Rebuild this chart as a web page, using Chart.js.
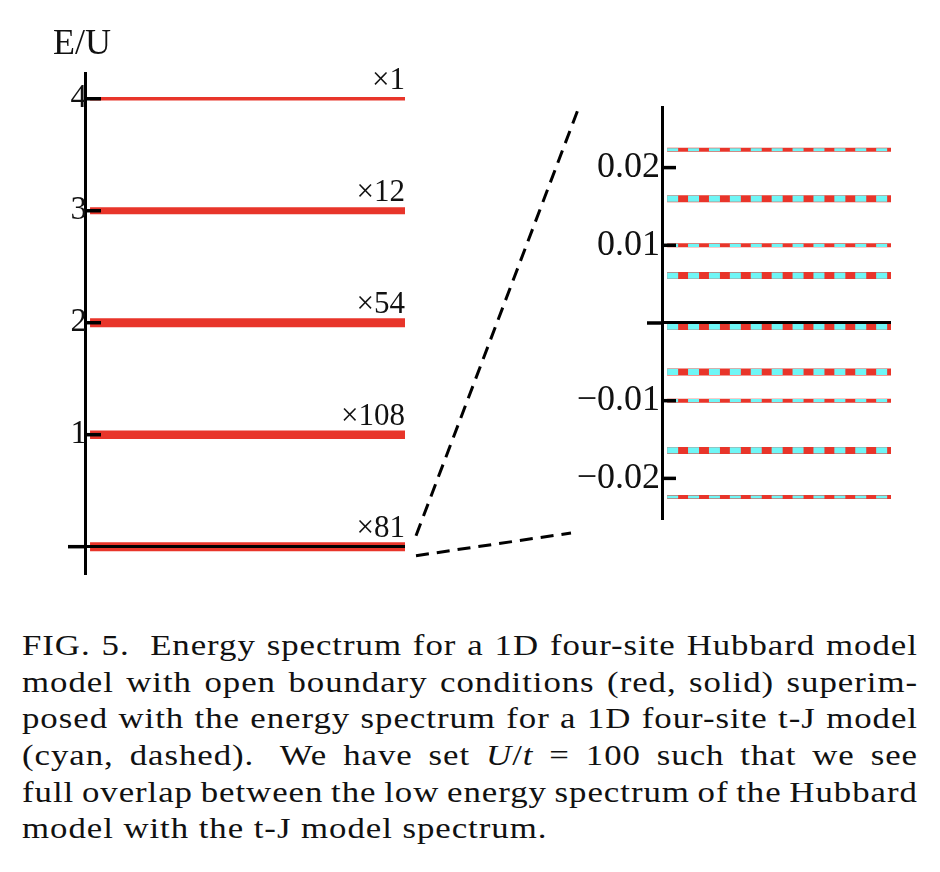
<!DOCTYPE html>
<html>
<head>
<meta charset="utf-8">
<script src="https://cdn.jsdelivr.net/npm/chart.js@4.4.1/dist/chart.umd.min.js"></script>
<style>
  html, body { margin: 0; padding: 0; background: #ffffff; }
  #wrap { position: relative; width: 940px; height: 872px; overflow: hidden; background: #fff; }
  #leftChart { position: absolute; left: 0; top: 0; }
  #rightChart { position: absolute; left: 400px; top: 0; }
  #caption {
    position: absolute; left: 22px; top: 627px; width: 746.67px;
    transform: scaleX(1.2); transform-origin: 0 0;
    font-family: "Liberation Serif", "Times New Roman", serif;
    font-size: 29px; line-height: 36.7px; color: #111;
    letter-spacing: 0.8px;
  }
  #caption .ln { display: flex; justify-content: space-between; height: 36.7px; white-space: nowrap; }
  #caption .last { justify-content: flex-start; }
  #caption .last span { margin-right: 8px; }
</style>
</head>
<body>
<div id="wrap">
  <canvas id="leftChart" width="420" height="600"></canvas>
  <canvas id="rightChart" width="540" height="600"></canvas>
  <div id="caption"></div>
</div>
<script>
// ---------------- DATA ----------------
// Full Hubbard spectrum (E/U) and degeneracy of each band
const hubbardBands = [0, 1, 2, 3, 4];
const bandDegeneracy = [81, 108, 54, 12, 1];
const leftTickValues = [0, 1, 2, 3, 4];

// Zoom on the low-energy band (E/U), Hubbard (red) and t-J (cyan)
const lowHubbardLevels = [0.0223, 0.0160, 0.0100, 0.0061, -0.0004, -0.0063, -0.0100, -0.0164, -0.0224];
const lowTJLevels      = [0.0223, 0.0160, 0.0100, 0.0061, -0.0004, -0.0063, -0.0100, -0.0164, -0.0224];
const rightTickValues = [-0.02, -0.01, 0, 0.01, 0.02];

// Caption lines (as typeset)
const captionLines = [
  'FIG. 5.&nbsp; Energy spectrum for a 1D four-site Hubbard model',
  'model with open boundary conditions (red, solid) superim-',
  'posed with the energy spectrum for a 1D four-site t-J model',
  '(cyan, dashed).&nbsp; We have set <i>U</i>/<i>t</i> = 100 such that we see',
  'full overlap between the low energy spectrum of the Hubbard',
  'model with the t-J model spectrum.'
];

// ---------------- STYLE ----------------
const RED = '#E8352A';
const CYAN = '#6FF6F6';
const INK = '#111111';
const SERIF = '"Liberation Serif", "Times New Roman", serif';
const leftBandWidths = [9, 8.5, 9, 7, 3.5];
const lowBandWidths = [4, 7, 4, 7, 8, 7, 4, 7, 4];

// caption build
const capEl = document.getElementById('caption');
captionLines.forEach((line, i) => {
  const div = document.createElement('div');
  div.className = 'ln' + (i === captionLines.length - 1 ? ' last' : '');
  line.split(' ').forEach(w => {
    const s = document.createElement('span');
    s.innerHTML = w;
    div.appendChild(s);
  });
  capEl.appendChild(div);
});

function fmtRight(v) {
  if (v === 0) return '';
  return (v < 0 ? '\u2212' : '') + Math.abs(v).toFixed(2);
}

// ---------------- LEFT CHART ----------------
const leftDecor = {
  id: 'leftDecor',
  afterDraw(chart) {
    const {ctx, chartArea} = chart;
    const y = chart.scales.y;
    ctx.save();
    ctx.strokeStyle = '#000';
    ctx.lineWidth = 3.5;
    leftTickValues.forEach(v => {
      const py = y.getPixelForValue(v);
      ctx.beginPath();
      if (v === 0) { ctx.moveTo(chartArea.left - 17, py); ctx.lineTo(chartArea.left, py); }
      else { ctx.moveTo(chartArea.left, py); ctx.lineTo(chartArea.left + 16, py); }
      ctx.stroke();
    });
    ctx.fillStyle = INK;
    ctx.font = '31px ' + SERIF;
    ctx.textAlign = 'right';
    ctx.textBaseline = 'alphabetic';
    hubbardBands.forEach((E, i) => {
      const py = y.getPixelForValue(E);
      ctx.fillText('\u00D7' + bandDegeneracy[i], chartArea.right, py - 10);
    });
    ctx.restore();
  }
};

const leftChart = new Chart(document.getElementById('leftChart'), {
  type: 'line',
  data: {
    datasets: hubbardBands.map((E, i) => ({
      data: [{x: 0, y: E}, {x: 1, y: E}],
      borderColor: RED,
      borderWidth: leftBandWidths[i],
      pointRadius: 0,
      borderCapStyle: 'butt',
      fill: false
    }))
  },
  options: {
    responsive: false,
    animation: false,
    events: [],
    layout: { padding: { left: 53, right: 15, top: 0, bottom: 27 } },
    plugins: {
      legend: { display: false },
      tooltip: { enabled: false },
      title: {
        display: true,
        text: 'E/U',
        align: 'start',
        color: INK,
        font: { family: SERIF, size: 36, weight: 'normal' },
        padding: { top: 23.2, bottom: 6.6 }
      }
    },
    scales: {
      x: { type: 'linear', display: false, min: -0.016, max: 1 },
      y: {
        type: 'linear',
        min: -0.235, max: 4.23,
        afterBuildTicks: s => { s.ticks = leftTickValues.map(v => ({value: v})); },
        afterFit: s => { s.width = 32; },
        ticks: {
          color: INK,
          padding: -2,
          z: 1,
          font: { family: SERIF, size: 33 },
          callback: v => (v === 0 ? '' : String(v))
        },
        grid: {
          z: 1,
          drawTicks: false,
          drawOnChartArea: true,
          lineWidth: 3,
          color: c => (c.tick && c.tick.value === 0 ? '#000' : 'rgba(0,0,0,0)')
        },
        border: { z: 1, display: true, color: '#000', width: 3 }
      }
    }
  },
  plugins: [leftDecor]
});

// ---------------- RIGHT CHART ----------------
const RIGHT_OFFSET = 400; // page x of right canvas
const rightDecor = {
  id: 'rightDecor',
  afterDraw(chart) {
    const {ctx, chartArea} = chart;
    const y = chart.scales.y;
    ctx.save();
    ctx.strokeStyle = '#000';
    ctx.lineWidth = 3.5;
    rightTickValues.forEach(v => {
      const py = y.getPixelForValue(v);
      ctx.beginPath();
      if (v === 0) { ctx.moveTo(chartArea.left - 15, py); ctx.lineTo(chartArea.left, py); }
      else { ctx.moveTo(chartArea.left, py); ctx.lineTo(chartArea.left + 14, py); }
      ctx.stroke();
    });
    // zoom connector lines from the ground band of the left panel
    const la = leftChart.chartArea;
    const ly0 = leftChart.scales.y.getPixelForValue(0);
    const sx = la.right + 11 - RIGHT_OFFSET;
    ctx.lineWidth = 3;
    ctx.setLineDash([13, 8]);
    ctx.beginPath();
    ctx.moveTo(sx, ly0 - 11);
    ctx.lineTo(chartArea.left - 83, chartArea.top);
    ctx.stroke();
    ctx.beginPath();
    ctx.moveTo(sx, ly0 + 9);
    ctx.lineTo(chartArea.left - 91, chartArea.bottom + 15);
    ctx.stroke();
    ctx.restore();
  }
};

const rightDatasets = [];
lowTJLevels.forEach((E, i) => {
  rightDatasets.push({
    data: [{x: 0, y: E}, {x: 1, y: E}],
    borderColor: CYAN,
    borderWidth: lowBandWidths[i] - 0.8,
    borderDash: [11, 9.9],
    borderCapStyle: 'butt',
    pointRadius: 0,
    fill: false,
    order: 1
  });
});
lowHubbardLevels.forEach((E, i) => {
  rightDatasets.push({
    data: [{x: 0, y: E}, {x: 1, y: E}],
    borderColor: RED,
    borderWidth: lowBandWidths[i],
    borderCapStyle: 'butt',
    pointRadius: 0,
    fill: false,
    order: 2
  });
});

const rightChart = new Chart(document.getElementById('rightChart'), {
  type: 'line',
  data: { datasets: rightDatasets },
  options: {
    responsive: false,
    animation: false,
    events: [],
    layout: { padding: { left: 0, right: 49, top: 107, bottom: 82 } },
    plugins: { legend: { display: false }, tooltip: { enabled: false }, title: { display: false } },
    scales: {
      x: { type: 'linear', display: false, min: -0.023, max: 1 },
      y: {
        type: 'linear',
        min: -0.0251, max: 0.0278,
        afterBuildTicks: s => { s.ticks = rightTickValues.map(v => ({value: v})); },
        afterFit: s => { s.width = 262; },
        ticks: {
          color: INK,
          padding: 2,
          z: 1,
          font: { family: SERIF, size: 36 },
          callback: v => fmtRight(v)
        },
        grid: {
          z: 1,
          drawTicks: false,
          drawOnChartArea: true,
          lineWidth: 3,
          color: c => (c.tick && c.tick.value === 0 ? '#000' : 'rgba(0,0,0,0)')
        },
        border: { z: 1, display: true, color: '#000', width: 3 }
      }
    }
  },
  plugins: [rightDecor]
});
</script>
</body>
</html>
